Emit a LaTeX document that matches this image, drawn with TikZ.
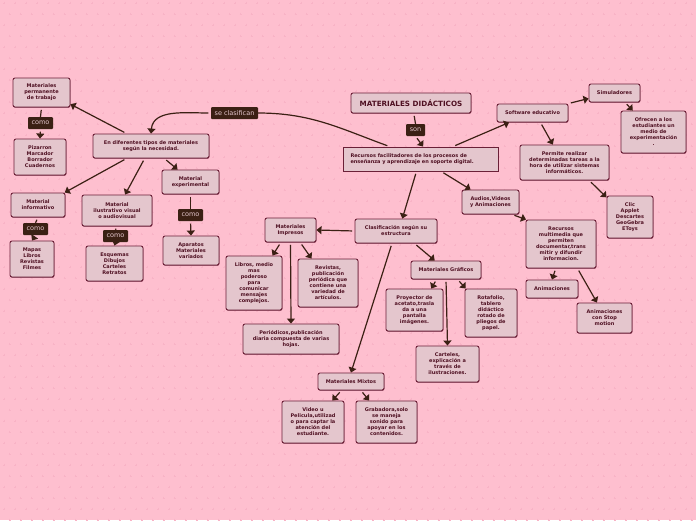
\documentclass[tikz,border=0pt]{standalone}
\usepackage{fontspec}
\setmainfont{DejaVu Sans}
\usetikzlibrary{shadows,arrows.meta}
\definecolor{bgpink}{HTML}{FEBFCF}
\definecolor{dotpink}{HTML}{F8B3C6}
\definecolor{boxfill}{HTML}{E4C6CD}
\definecolor{boxline}{HTML}{6A1F37}
\definecolor{boxtext}{HTML}{4F1022}
\definecolor{linkcol}{HTML}{3B2014}
\tikzset{
    topic/.style={draw=boxline, line width=0.9pt, fill=boxfill, rounded corners=2pt,
        text=boxtext, inner sep=0pt, align=center,
        font=\fontsize{5}{6}\selectfont\bfseries,
        general shadow={shadow xshift=0.4pt, shadow yshift=-0.7pt, fill=boxline}},
    tag/.style={fill=linkcol, rounded corners=1pt, text=boxfill, inner sep=0pt,
        minimum height=12pt, font=\fontsize{6.5}{7}\selectfont},
    link/.style={draw=linkcol, line width=1.2pt, shorten <=2.5pt, -{Triangle[length=5pt,width=8pt]}},
    plain/.style={draw=linkcol, line width=1.2pt, shorten <=2.5pt}
}
\newcommand{\topicnode}[6]{% name, x0, y0, x1, y1, text
    \node[topic, minimum width={(#4-#2)*1pt}, minimum height={(#5-#3)*1pt}] (#1)
        at ({(#2+#4)/2},{(#3+#5)/2}) {#6};}
\begin{document}
\begin{tikzpicture}[x=1pt,y=-1pt]
    \useasboundingbox (0,0) rectangle (696,520);
    \fill[bgpink] (0,0) rectangle (696,520);
    \foreach \i in {0,...,63} \foreach \j in {0,...,47} {
        \pgfmathsetmacro{\dotx}{4+11*\i+5.5*mod(\j,2)}
        \pgfmathsetmacro{\doty}{2.8+11*\j}
        \draw[dotpink, line width=0.35pt] (\dotx-1,\doty) -- (\dotx+1,\doty) (\dotx,\doty-1) -- (\dotx,\doty+1);
    }

    % left branch
    \topicnode{perm}{13}{78}{70}{107}{Materiales\\permanente\\de trabajo}
    \topicnode{pizarron}{14}{139}{66}{175}{Pizarron\\Marcador\\Borrador\\Cuadernos}
    \topicnode{tipos}{93}{134}{209}{158}{En diferentes tipos de materiales\\según la necesidad.}
    \topicnode{inform}{11}{193}{65}{217}{Material\\informativo}
    \topicnode{mapas}{10}{241}{54}{277}{Mapas\\Libros\\Revistas\\Filmes}
    \topicnode{ilustr}{82}{195}{152}{226}{Material\\ilustrativo visual\\o audiovisual}
    \topicnode{esquemas}{86}{246}{143}{281}{Esquemas\\Dibujos\\Carteles\\Retratos}
    \topicnode{exper}{162}{170}{219}{194}{Material\\experimental}
    \topicnode{aparatos}{163}{236}{219}{265}{Aparatos\\Materiales\\variados}

    % middle
    \node[topic, minimum width=120pt, minimum height=20pt, font=\fontsize{7.2}{8}\selectfont\bfseries]
        (titulo) at (411,103) {MATERIALES DIDÁCTICOS};
    \node[topic, rounded corners=0pt, minimum width=155pt, minimum height=24pt, align=left, text width=140pt]
        (recursos) at (420.5,159) {Recursos facilitadores de los procesos de\\enseñanza y aprendizaje en soporte digital.};
    \topicnode{clasif}{355}{219}{437}{243}{Clasificación según su\\estructura}
    \topicnode{impresos}{265}{218}{316}{242}{Materiales\\Impresos}
    \topicnode{libros}{226}{256}{282}{310}{Libros, medio\\mas\\poderoso\\para\\comunicar\\mensajes\\complejos.}
    \topicnode{revistas}{298}{259}{358}{307}{Revistas,\\publicación\\periódica que\\contiene una\\variedad de\\artículos.}
    \topicnode{periodicos}{243}{324}{339}{354}{Periódicos,publicación\\diaria compuesta de varias\\hojas.}
    \topicnode{graficos}{411}{261}{481}{279}{Materiales Gráficos}
    \topicnode{proyector}{386}{289}{443}{331}{Proyector de\\acetato,trasla\\da a una\\pantalla\\imágenes.}
    \topicnode{rotafolio}{465}{289}{517}{337}{Rotafolio,\\tablero\\didáctico\\rotado de\\pliegos de\\papel.}
    \topicnode{carteles}{416}{346}{479}{382}{Carteles,\\explicación a\\través de\\ilustraciones.}
    \topicnode{mixtos}{318}{373}{384}{390}{Materiales Mixtos}
    \topicnode{video}{282}{401}{344}{443}{Video u\\Pelicula,utilizad\\o para captar la\\atención del\\estudiante.}
    \topicnode{grabadora}{356}{401}{417}{443}{Grabadora,solo\\se maneja\\sonido para\\apoyar en los\\contenidos.}

    % right branch
    \topicnode{software}{497}{104}{568}{122}{Software educativo}
    \topicnode{simul}{589}{84}{640}{102}{Simuladores}
    \topicnode{ofrecen}{621}{111}{686}{153}{Ofrecen a los\\estudiantes un\\medio de\\experimentación\\.}
    \topicnode{permite}{520}{145}{609}{180}{Permite realizar\\determinadas tareas a la\\hora de utilizar sistemas\\informáticos.}
    \topicnode{clic}{607}{196}{653}{238}{Clic\\Applet\\Descartes\\GeoGebra\\EToys}
    \topicnode{audios}{462}{190}{519}{214}{Audios,Videos\\y Animaciones}
    \topicnode{multi}{526}{220}{596}{268}{Recursos\\multimedia que\\permiten\\documentar,trans\\mitir y difundir\\informacion.}
    \topicnode{anim}{526}{280}{578}{298}{Animaciones}
    \topicnode{stop}{577}{303}{632}{333}{Animaciones\\con Stop\\motion}

    % link labels
    \node[tag, minimum width=25pt] (como1) at (40.5,123) {como};
    \node[tag, minimum width=25pt] (como2) at (35.5,229) {como};
    \node[tag, minimum width=25pt] (como3) at (115.5,236) {como};
    \node[tag, minimum width=25pt] (como4) at (190.5,215) {como};
    \node[tag, minimum width=47pt] (clasifican) at (234.5,113) {se clasifican};
    \node[tag, minimum width=19pt] (son) at (415.5,130) {son};

    % links, left branch
    \draw[link] (tipos.153) -- (perm.-22);
    \draw[link] (tipos.207) -- (inform.25);
    \draw[link] (tipos.243) -- (ilustr.63);
    \draw[link] (tipos.-43) -- (exper.136);
    \draw[plain] (perm.south) -- (como1.north);
    \draw[link] (como1.south) -- (pizarron.north);
    \draw[plain] (inform.south) -- (como2.north);
    \draw[link] (como2.south) -- (mapas.north);
    \draw[plain] (ilustr.south) -- (como3.north);
    \draw[link] (como3.south) -- (esquemas.north);
    \draw[plain] (exper.south) -- (como4.north);
    \draw[link] (como4.south) -- (aparatos.north);
    \draw[plain] (recursos.158.5) to[out=160,in=0] (clasifican.east);
    \draw[link] (clasifican.west) to[out=180,in=85] (tipos.north);

    % links, middle
    \draw[plain] (titulo.-75) -- (son.north);
    \draw[link] (son.south) -- (recursos.78);
    \draw[link] (recursos.252) -- (clasif.63);
    \draw[link] (clasif.west) -- (impresos.east);
    \draw[link] (clasif.-34) -- (graficos.140);
    \draw[link] (clasif.252) -- (mixtos.north);
    \draw[link] (impresos.232) -- (libros.56);
    \draw[link] (impresos.-52) -- (revistas.124);
    \draw[link] (impresos.south) -- (periodicos.north);
    \draw[link] (graficos.225) -- (proyector.52);
    \draw[link] (graficos.-39) -- (rotafolio.136);
    \draw[link] (graficos.south) -- (carteles.north);
    \draw[link] (mixtos.223) -- (video.48);
    \draw[link] (mixtos.-42) -- (grabadora.129);

    % links, right branch
    \draw[link] (recursos.21) -- (software.202);
    \draw[link] (recursos.-31) -- (audios.148);
    \draw[link] (software.north east) -- (simul.192);
    \draw[link] (software.-50) -- (permite.123);
    \draw[link] (simul.-42) -- (ofrecen.134);
    \draw[link] (permite.-36) -- (clic.140);
    \draw[link] (audios.-30) -- (multi.145);
    \draw[link] (multi.258) -- (anim.north);
    \draw[link] (multi.-56) -- (stop.116);
\end{tikzpicture}
\end{document}
